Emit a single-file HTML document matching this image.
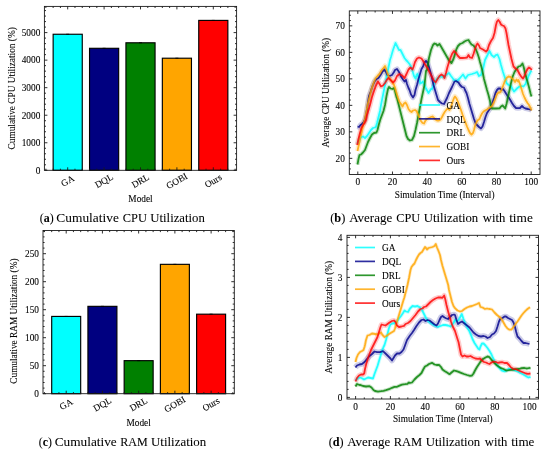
<!DOCTYPE html>
<html><head><meta charset="utf-8"><title>Figure</title>
<style>html,body{margin:0;padding:0;background:#fff}svg{display:block;filter:blur(0.35px)}</style></head>
<body>
<svg width="550" height="454" viewBox="0 0 550 454" font-family='"Liberation Serif", serif' fill="#000" stroke="#000" stroke-width="0">
<rect width="550" height="454" fill="#fff"/>
<rect x="53.14" y="34.25" width="29.12" height="136.05" fill="#00ffff" stroke="#000" stroke-width="1.15"/>
<path d="M66.20 34.25h3" stroke="#000" stroke-width="0.8"/>
<rect x="89.54" y="48.30" width="29.12" height="122.00" fill="#000080" stroke="#000" stroke-width="1.15"/>
<path d="M102.60 48.30h3" stroke="#000" stroke-width="0.8"/>
<rect x="125.94" y="42.79" width="29.12" height="127.51" fill="#008000" stroke="#000" stroke-width="1.15"/>
<path d="M139.00 42.79h3" stroke="#000" stroke-width="0.8"/>
<rect x="162.34" y="58.21" width="29.12" height="112.09" fill="#ffa500" stroke="#000" stroke-width="1.15"/>
<path d="M175.40 58.21h3" stroke="#000" stroke-width="0.8"/>
<rect x="198.74" y="20.40" width="29.12" height="149.90" fill="#ff0000" stroke="#000" stroke-width="1.15"/>
<path d="M211.80 20.40h3" stroke="#000" stroke-width="0.8"/>
<rect x="44.4" y="6.4" width="192.20" height="163.90" fill="none" stroke="#1a1a1a" stroke-width="0.9"/>
<path d="M67.70 170.30v-3.0M67.70 6.40v3.0M104.10 170.30v-3.0M104.10 6.40v3.0M140.50 170.30v-3.0M140.50 6.40v3.0M176.90 170.30v-3.0M176.90 6.40v3.0M213.30 170.30v-3.0M213.30 6.40v3.0" stroke="#1a1a1a" stroke-width="0.9" fill="none"/>
<path d="M45.86 170.30v-1.6M45.86 6.40v1.6M53.14 170.30v-1.6M53.14 6.40v1.6M60.42 170.30v-1.6M60.42 6.40v1.6M74.98 170.30v-1.6M74.98 6.40v1.6M82.26 170.30v-1.6M82.26 6.40v1.6M89.54 170.30v-1.6M89.54 6.40v1.6M96.82 170.30v-1.6M96.82 6.40v1.6M111.38 170.30v-1.6M111.38 6.40v1.6M118.66 170.30v-1.6M118.66 6.40v1.6M125.94 170.30v-1.6M125.94 6.40v1.6M133.22 170.30v-1.6M133.22 6.40v1.6M147.78 170.30v-1.6M147.78 6.40v1.6M155.06 170.30v-1.6M155.06 6.40v1.6M162.34 170.30v-1.6M162.34 6.40v1.6M169.62 170.30v-1.6M169.62 6.40v1.6M184.18 170.30v-1.6M184.18 6.40v1.6M191.46 170.30v-1.6M191.46 6.40v1.6M198.74 170.30v-1.6M198.74 6.40v1.6M206.02 170.30v-1.6M206.02 6.40v1.6M220.58 170.30v-1.6M220.58 6.40v1.6M227.86 170.30v-1.6M227.86 6.40v1.6M235.14 170.30v-1.6M235.14 6.40v1.6" stroke="#1a1a1a" stroke-width="0.9" fill="none"/>
<path d="M44.40 170.30h3.0M236.60 170.30h-3.0M44.40 142.76h3.0M236.60 142.76h-3.0M44.40 115.22h3.0M236.60 115.22h-3.0M44.40 87.68h3.0M236.60 87.68h-3.0M44.40 60.14h3.0M236.60 60.14h-3.0M44.40 32.60h3.0M236.60 32.60h-3.0" stroke="#1a1a1a" stroke-width="0.9" fill="none"/>
<path d="M44.40 164.79h1.6M236.60 164.79h-1.6M44.40 159.28h1.6M236.60 159.28h-1.6M44.40 153.78h1.6M236.60 153.78h-1.6M44.40 148.27h1.6M236.60 148.27h-1.6M44.40 137.25h1.6M236.60 137.25h-1.6M44.40 131.74h1.6M236.60 131.74h-1.6M44.40 126.24h1.6M236.60 126.24h-1.6M44.40 120.73h1.6M236.60 120.73h-1.6M44.40 109.71h1.6M236.60 109.71h-1.6M44.40 104.20h1.6M236.60 104.20h-1.6M44.40 98.70h1.6M236.60 98.70h-1.6M44.40 93.19h1.6M236.60 93.19h-1.6M44.40 82.17h1.6M236.60 82.17h-1.6M44.40 76.66h1.6M236.60 76.66h-1.6M44.40 71.16h1.6M236.60 71.16h-1.6M44.40 65.65h1.6M236.60 65.65h-1.6M44.40 54.63h1.6M236.60 54.63h-1.6M44.40 49.12h1.6M236.60 49.12h-1.6M44.40 43.62h1.6M236.60 43.62h-1.6M44.40 38.11h1.6M236.60 38.11h-1.6M44.40 27.09h1.6M236.60 27.09h-1.6M44.40 21.58h1.6M236.60 21.58h-1.6M44.40 16.08h1.6M236.60 16.08h-1.6M44.40 10.57h1.6M236.60 10.57h-1.6" stroke="#1a1a1a" stroke-width="0.9" fill="none"/>
<text x="40.30" y="173.60" font-size="9.3" text-anchor="end" stroke-width="0.08">0</text>
<text x="40.30" y="146.06" font-size="9.3" text-anchor="end" stroke-width="0.08">1000</text>
<text x="40.30" y="118.52" font-size="9.3" text-anchor="end" stroke-width="0.08">2000</text>
<text x="40.30" y="90.98" font-size="9.3" text-anchor="end" stroke-width="0.08">3000</text>
<text x="40.30" y="63.44" font-size="9.3" text-anchor="end" stroke-width="0.08">4000</text>
<text x="40.30" y="35.90" font-size="9.3" text-anchor="end" stroke-width="0.08">5000</text>
<text x="68.10" y="181.70" font-size="9.3" text-anchor="middle" stroke-width="0.08" transform="rotate(-30 68.10 181.70)" dominant-baseline="middle">GA</text>
<text x="104.50" y="181.70" font-size="9.3" text-anchor="middle" stroke-width="0.08" transform="rotate(-30 104.50 181.70)" dominant-baseline="middle">DQL</text>
<text x="140.90" y="181.70" font-size="9.3" text-anchor="middle" stroke-width="0.08" transform="rotate(-30 140.90 181.70)" dominant-baseline="middle">DRL</text>
<text x="177.30" y="181.70" font-size="9.3" text-anchor="middle" stroke-width="0.08" transform="rotate(-30 177.30 181.70)" dominant-baseline="middle">GOBI</text>
<text x="213.70" y="181.70" font-size="9.3" text-anchor="middle" stroke-width="0.08" transform="rotate(-30 213.70 181.70)" dominant-baseline="middle">Ours</text>
<text x="140.50" y="202.30" font-size="9.3" text-anchor="middle" stroke-width="0.08">Model</text>
<text x="15.50" y="88.35" font-size="9.3" text-anchor="middle" stroke-width="0.08" transform="rotate(-90 15.50 88.35)">Cumulative CPU Utilization (%)</text>
<rect x="51.70" y="316.42" width="28.98" height="77.28" fill="#00ffff" stroke="#000" stroke-width="1.15"/>
<path d="M64.69 316.42h3" stroke="#000" stroke-width="0.8"/>
<rect x="87.93" y="306.34" width="28.98" height="87.36" fill="#000080" stroke="#000" stroke-width="1.15"/>
<path d="M100.92 306.34h3" stroke="#000" stroke-width="0.8"/>
<rect x="124.16" y="360.66" width="28.98" height="33.04" fill="#008000" stroke="#000" stroke-width="1.15"/>
<path d="M137.15 360.66h3" stroke="#000" stroke-width="0.8"/>
<rect x="160.39" y="264.34" width="28.98" height="129.36" fill="#ffa500" stroke="#000" stroke-width="1.15"/>
<path d="M173.38 264.34h3" stroke="#000" stroke-width="0.8"/>
<rect x="196.62" y="314.18" width="28.98" height="79.52" fill="#ff0000" stroke="#000" stroke-width="1.15"/>
<path d="M209.61 314.18h3" stroke="#000" stroke-width="0.8"/>
<rect x="43" y="230.5" width="191.30" height="163.20" fill="none" stroke="#1a1a1a" stroke-width="0.9"/>
<path d="M66.19 393.70v-3.0M66.19 230.50v3.0M102.42 393.70v-3.0M102.42 230.50v3.0M138.65 393.70v-3.0M138.65 230.50v3.0M174.88 393.70v-3.0M174.88 230.50v3.0M211.11 393.70v-3.0M211.11 230.50v3.0" stroke="#1a1a1a" stroke-width="0.9" fill="none"/>
<path d="M44.45 393.70v-1.6M44.45 230.50v1.6M51.70 393.70v-1.6M51.70 230.50v1.6M58.94 393.70v-1.6M58.94 230.50v1.6M73.43 393.70v-1.6M73.43 230.50v1.6M80.68 393.70v-1.6M80.68 230.50v1.6M87.93 393.70v-1.6M87.93 230.50v1.6M95.17 393.70v-1.6M95.17 230.50v1.6M109.67 393.70v-1.6M109.67 230.50v1.6M116.91 393.70v-1.6M116.91 230.50v1.6M124.16 393.70v-1.6M124.16 230.50v1.6M131.40 393.70v-1.6M131.40 230.50v1.6M145.90 393.70v-1.6M145.90 230.50v1.6M153.14 393.70v-1.6M153.14 230.50v1.6M160.39 393.70v-1.6M160.39 230.50v1.6M167.63 393.70v-1.6M167.63 230.50v1.6M182.13 393.70v-1.6M182.13 230.50v1.6M189.37 393.70v-1.6M189.37 230.50v1.6M196.62 393.70v-1.6M196.62 230.50v1.6M203.87 393.70v-1.6M203.87 230.50v1.6M218.36 393.70v-1.6M218.36 230.50v1.6M225.60 393.70v-1.6M225.60 230.50v1.6M232.85 393.70v-1.6M232.85 230.50v1.6" stroke="#1a1a1a" stroke-width="0.9" fill="none"/>
<path d="M43.00 393.70h3.0M234.30 393.70h-3.0M43.00 365.70h3.0M234.30 365.70h-3.0M43.00 337.70h3.0M234.30 337.70h-3.0M43.00 309.70h3.0M234.30 309.70h-3.0M43.00 281.70h3.0M234.30 281.70h-3.0M43.00 253.70h3.0M234.30 253.70h-3.0" stroke="#1a1a1a" stroke-width="0.9" fill="none"/>
<path d="M43.00 388.10h1.6M234.30 388.10h-1.6M43.00 382.50h1.6M234.30 382.50h-1.6M43.00 376.90h1.6M234.30 376.90h-1.6M43.00 371.30h1.6M234.30 371.30h-1.6M43.00 360.10h1.6M234.30 360.10h-1.6M43.00 354.50h1.6M234.30 354.50h-1.6M43.00 348.90h1.6M234.30 348.90h-1.6M43.00 343.30h1.6M234.30 343.30h-1.6M43.00 332.10h1.6M234.30 332.10h-1.6M43.00 326.50h1.6M234.30 326.50h-1.6M43.00 320.90h1.6M234.30 320.90h-1.6M43.00 315.30h1.6M234.30 315.30h-1.6M43.00 304.10h1.6M234.30 304.10h-1.6M43.00 298.50h1.6M234.30 298.50h-1.6M43.00 292.90h1.6M234.30 292.90h-1.6M43.00 287.30h1.6M234.30 287.30h-1.6M43.00 276.10h1.6M234.30 276.10h-1.6M43.00 270.50h1.6M234.30 270.50h-1.6M43.00 264.90h1.6M234.30 264.90h-1.6M43.00 259.30h1.6M234.30 259.30h-1.6M43.00 248.10h1.6M234.30 248.10h-1.6M43.00 242.50h1.6M234.30 242.50h-1.6M43.00 236.90h1.6M234.30 236.90h-1.6M43.00 231.30h1.6M234.30 231.30h-1.6" stroke="#1a1a1a" stroke-width="0.9" fill="none"/>
<text x="39.00" y="397.00" font-size="9.3" text-anchor="end" stroke-width="0.08">0</text>
<text x="39.00" y="369.00" font-size="9.3" text-anchor="end" stroke-width="0.08">50</text>
<text x="39.00" y="341.00" font-size="9.3" text-anchor="end" stroke-width="0.08">100</text>
<text x="39.00" y="313.00" font-size="9.3" text-anchor="end" stroke-width="0.08">150</text>
<text x="39.00" y="285.00" font-size="9.3" text-anchor="end" stroke-width="0.08">200</text>
<text x="39.00" y="257.00" font-size="9.3" text-anchor="end" stroke-width="0.08">250</text>
<text x="66.59" y="405.10" font-size="9.3" text-anchor="middle" stroke-width="0.08" transform="rotate(-30 66.59 405.10)" dominant-baseline="middle">GA</text>
<text x="102.82" y="405.10" font-size="9.3" text-anchor="middle" stroke-width="0.08" transform="rotate(-30 102.82 405.10)" dominant-baseline="middle">DQL</text>
<text x="139.05" y="405.10" font-size="9.3" text-anchor="middle" stroke-width="0.08" transform="rotate(-30 139.05 405.10)" dominant-baseline="middle">DRL</text>
<text x="175.28" y="405.10" font-size="9.3" text-anchor="middle" stroke-width="0.08" transform="rotate(-30 175.28 405.10)" dominant-baseline="middle">GOBI</text>
<text x="211.51" y="405.10" font-size="9.3" text-anchor="middle" stroke-width="0.08" transform="rotate(-30 211.51 405.10)" dominant-baseline="middle">Ours</text>
<text x="138.65" y="425.50" font-size="9.3" text-anchor="middle" stroke-width="0.08">Model</text>
<text x="17.00" y="321.10" font-size="9.3" text-anchor="middle" stroke-width="0.08" transform="rotate(-90 17.00 321.10)">Cumulative RAM Utilization (%)</text>
<clipPath id="c34910"><rect x="349.3" y="10.9" width="190.7" height="163.6"/></clipPath>
<g clip-path="url(#c34910)" fill="none" stroke-linejoin="round" stroke-linecap="butt">
<polyline points="357.6,144.0 359.0,140.5 360.3,138.0 361.5,137.0 363.0,136.5 365.0,138.0 367.0,136.0 369.0,133.0 371.0,130.0 373.0,128.0 375.0,127.5 376.0,126.5 377.0,123.0 378.5,117.0 380.0,111.0 381.0,105.0 383.0,95.0 385.0,85.0 387.0,75.0 389.0,65.0 390.0,60.0 391.0,57.0 393.0,50.0 395.5,43.0 397.5,47.0 399.0,50.0 400.5,50.0 402.5,54.0 404.5,58.0 406.0,60.0 407.5,61.5 409.5,64.0 411.0,66.5 412.5,71.0 414.0,76.0 415.5,78.5 416.5,75.0 417.5,74.0 419.0,79.0 420.5,83.5 422.0,82.5 423.0,81.5 424.5,85.0 426.0,88.5 428.5,93.0 431.0,89.0 432.0,89.0 434.0,84.0 436.0,80.0 438.5,77.5 441.0,76.5 444.0,77.0 446.0,75.0 449.0,73.0 451.0,76.0 454.0,80.0 457.0,81.0 460.0,78.0 463.0,74.5 465.5,78.5 468.0,75.0 472.0,74.0 475.0,73.0 477.0,72.0 479.0,76.0 481.0,75.0 483.0,69.0 485.0,60.0 487.0,56.0 489.5,51.0 491.5,55.0 494.0,57.0 496.0,55.0 497.5,54.5 499.5,59.0 501.0,65.0 503.0,72.0 505.0,78.0 506.5,83.0 508.5,85.0 510.5,85.5 512.5,89.0 514.0,91.5 515.5,90.0 517.5,88.0 519.5,86.5 521.5,86.0 523.5,86.5 525.5,84.0 527.0,80.0 529.0,75.0 530.5,72.0 531.5,70.5" stroke="#00ffff" stroke-width="4.6" opacity="0.2"/>
<polyline points="357.5,126.5 359.0,127.0 360.5,125.0 362.0,124.0 363.5,122.5 365.0,119.5 366.0,115.0 367.2,108.0 368.0,102.0 369.0,96.0 370.5,92.0 372.5,86.0 374.5,81.5 376.5,79.0 378.5,78.0 380.5,75.0 382.5,71.5 384.5,69.5 386.0,72.0 387.5,75.0 389.5,76.0 392.0,75.0 394.0,72.0 395.0,70.0 397.0,69.0 399.0,72.0 401.0,76.5 403.0,79.5 404.5,81.5 406.0,80.0 407.0,84.0 408.5,88.0 409.5,90.0 411.0,94.5 413.0,97.5 414.5,95.0 415.5,90.0 417.0,85.0 418.5,79.0 420.0,74.0 421.5,69.0 423.0,66.5 424.5,62.5 426.0,61.0 427.5,62.5 429.0,67.0 430.5,72.5 432.0,78.0 433.5,85.0 435.0,90.0 436.5,95.0 438.0,100.0 440.0,102.0 442.0,103.5 444.0,104.0 445.0,102.0 447.0,98.0 449.0,93.0 450.5,90.0 452.0,87.0 454.5,81.5 456.0,81.0 458.5,82.5 460.0,85.0 462.0,87.0 464.0,87.5 465.0,90.0 466.5,93.0 468.0,98.0 469.5,104.0 471.0,109.0 472.5,114.0 474.0,119.0 475.5,123.0 477.0,125.0 479.0,127.0 481.0,128.5 482.5,126.5 484.0,122.0 485.5,117.0 487.0,113.0 489.0,110.0 490.0,108.5 492.0,104.0 494.0,98.0 495.5,93.0 497.0,90.0 498.5,88.5 500.0,88.5 501.5,90.0 503.0,89.0 504.5,91.0 506.0,93.5 508.0,96.5 510.0,99.5 512.0,103.0 514.0,106.0 516.0,108.0 518.0,108.2 520.0,108.0 522.0,106.0 523.5,107.5 525.5,108.5 528.0,109.0 530.0,109.5 531.5,110.0" stroke="#00008b" stroke-width="5.2" opacity="0.2"/>
<polyline points="357.5,164.5 358.5,159.0 359.5,155.0 361.0,154.5 363.0,152.5 365.0,150.0 366.5,146.0 368.0,142.0 370.0,138.0 372.0,134.5 374.0,133.0 376.5,132.5 377.5,130.0 379.0,124.0 380.5,119.0 382.0,115.0 383.5,111.0 385.0,105.0 386.5,96.0 388.0,89.0 389.0,87.0 390.5,88.5 392.5,89.0 394.0,88.0 395.0,91.0 396.5,97.0 397.0,98.0 399.0,106.0 401.0,114.0 403.0,122.0 405.0,130.0 406.5,136.0 408.0,139.0 410.0,140.5 412.0,140.0 414.0,136.0 415.5,130.0 417.0,123.0 418.5,115.0 420.0,107.0 421.5,99.0 423.0,92.0 424.5,85.0 426.0,71.0 427.0,70.0 429.0,58.0 431.0,50.0 433.0,45.0 434.5,43.5 436.0,44.0 437.5,45.5 439.5,44.0 441.0,46.5 443.0,50.0 445.0,53.5 447.0,57.0 449.0,60.5 451.5,63.0 453.5,59.0 455.0,54.0 456.5,49.0 458.0,46.0 460.0,44.0 462.5,43.0 464.5,41.5 466.5,40.5 468.5,40.0 470.0,42.5 471.5,44.5 473.5,45.5 475.0,47.5 477.0,52.0 479.0,58.0 480.0,62.0 482.0,69.0 484.0,79.0 487.0,90.0 488.5,95.0 490.0,101.0 491.0,107.0 492.0,108.5 496.0,108.5 499.5,108.3 501.0,106.5 502.5,105.5 504.0,107.0 505.2,108.5 506.5,104.0 508.0,97.0 509.5,90.0 511.0,83.0 512.5,77.0 514.5,72.0 516.5,69.0 518.5,66.5 520.5,66.0 522.5,63.5 523.7,67.0 525.3,74.0 527.0,80.0 528.7,86.0 529.7,90.0 530.7,94.0 531.5,96.5" stroke="#008000" stroke-width="4.2" opacity="0.2"/>
<polyline points="357.5,151.0 359.0,144.0 360.5,137.0 362.0,130.0 363.5,124.0 365.0,119.0 366.5,111.0 367.5,105.0 369.5,97.0 371.5,89.0 373.5,83.0 375.5,78.5 377.5,76.0 379.5,74.0 381.5,70.5 383.5,68.0 385.0,66.0 386.5,70.0 388.0,75.0 390.0,79.0 392.0,81.5 394.0,85.0 395.0,88.0 396.5,93.0 398.0,98.0 399.5,102.0 401.0,104.0 402.5,106.5 404.0,103.5 405.5,102.5 407.0,105.0 408.5,109.0 410.0,111.0 411.5,112.0 413.0,110.5 415.0,110.0 416.5,111.0 418.0,114.0 419.5,118.0 421.0,121.0 422.5,123.0 424.0,123.5 425.5,120.5 427.0,119.0 429.0,118.0 431.0,117.0 432.5,116.5 434.0,118.0 435.5,119.5 437.0,120.5 439.0,120.5 440.5,119.5 442.0,117.0 443.5,114.0 445.0,111.5 447.5,108.5 449.5,110.0 451.0,107.0 452.5,102.0 454.0,98.0 455.0,96.5 456.5,98.5 458.0,102.0 459.5,106.0 461.0,110.0 462.5,114.5 464.0,118.5 465.5,122.5 467.0,126.5 468.5,130.0 470.0,133.0 471.5,134.5 473.0,133.0 474.0,130.0 475.0,126.0 476.5,122.0 478.0,120.0 479.5,119.0 480.5,116.5 482.0,113.5 483.5,111.5 485.0,110.5 487.0,109.5 489.0,108.0 490.0,107.5 492.0,106.0 494.0,102.0 495.5,98.0 497.0,94.0 498.5,92.5 500.0,92.5 501.5,90.0 503.0,86.0 504.5,82.0 506.5,78.0 508.5,76.5 510.5,76.8 512.0,78.5 513.5,79.5 515.0,82.0 516.5,79.5 518.0,81.5 518.5,80.0 520.0,84.0 521.5,89.0 523.0,94.0 524.5,97.5 526.0,100.5 527.5,103.0 529.0,105.0 530.5,108.0 531.5,110.5" stroke="#ffa500" stroke-width="5.0" opacity="0.2"/>
<polyline points="357.2,145.0 358.5,139.0 360.0,133.0 361.5,128.0 363.0,125.0 364.5,123.0 366.0,120.0 367.0,115.0 368.5,110.0 370.0,105.0 372.0,97.0 374.0,91.0 376.0,85.5 378.0,81.5 379.5,84.0 381.0,86.5 383.0,85.5 385.0,83.0 387.0,79.5 388.5,78.0 390.5,80.0 393.0,82.5 395.0,80.5 397.0,76.0 399.5,74.0 402.0,75.5 404.5,78.0 406.5,74.0 408.5,69.5 410.5,67.5 412.5,69.5 413.5,67.0 415.0,62.0 417.0,58.5 419.0,57.5 421.5,58.5 423.5,61.5 425.5,65.0 427.5,68.0 429.5,72.0 431.5,76.0 433.5,80.0 435.5,82.5 437.5,79.0 439.5,76.0 441.5,74.5 443.5,76.0 444.5,78.0 446.0,73.0 447.5,67.0 449.0,62.0 450.0,59.0 452.0,54.0 454.0,51.0 456.0,53.0 458.0,56.0 460.0,58.0 462.5,58.0 465.0,57.8 467.0,57.5 468.5,55.0 470.0,57.5 472.0,58.0 473.5,54.0 475.0,49.0 476.5,45.0 477.5,43.5 479.0,45.5 480.0,48.0 483.0,49.5 486.0,51.5 487.5,50.0 489.0,45.0 491.0,41.0 493.0,38.0 494.5,33.0 496.0,25.0 497.0,21.5 498.3,20.0 499.5,21.5 501.0,24.5 502.5,25.5 504.0,26.0 505.5,28.5 506.5,33.0 508.0,42.0 508.5,45.0 510.0,52.0 511.5,59.0 513.5,66.5 515.5,68.5 517.5,70.0 519.5,74.0 521.5,77.0 523.0,78.5 524.5,76.0 526.0,72.0 527.5,69.0 529.0,67.5 530.5,68.5 531.8,70.0" stroke="#ff0000" stroke-width="5.0" opacity="0.2"/>
<polyline points="357.6,144.0 359.0,140.5 360.3,138.0 361.5,137.0 363.0,136.5 365.0,138.0 367.0,136.0 369.0,133.0 371.0,130.0 373.0,128.0 375.0,127.5 376.0,126.5 377.0,123.0 378.5,117.0 380.0,111.0 381.0,105.0 383.0,95.0 385.0,85.0 387.0,75.0 389.0,65.0 390.0,60.0 391.0,57.0 393.0,50.0 395.5,43.0 397.5,47.0 399.0,50.0 400.5,50.0 402.5,54.0 404.5,58.0 406.0,60.0 407.5,61.5 409.5,64.0 411.0,66.5 412.5,71.0 414.0,76.0 415.5,78.5 416.5,75.0 417.5,74.0 419.0,79.0 420.5,83.5 422.0,82.5 423.0,81.5 424.5,85.0 426.0,88.5 428.5,93.0 431.0,89.0 432.0,89.0 434.0,84.0 436.0,80.0 438.5,77.5 441.0,76.5 444.0,77.0 446.0,75.0 449.0,73.0 451.0,76.0 454.0,80.0 457.0,81.0 460.0,78.0 463.0,74.5 465.5,78.5 468.0,75.0 472.0,74.0 475.0,73.0 477.0,72.0 479.0,76.0 481.0,75.0 483.0,69.0 485.0,60.0 487.0,56.0 489.5,51.0 491.5,55.0 494.0,57.0 496.0,55.0 497.5,54.5 499.5,59.0 501.0,65.0 503.0,72.0 505.0,78.0 506.5,83.0 508.5,85.0 510.5,85.5 512.5,89.0 514.0,91.5 515.5,90.0 517.5,88.0 519.5,86.5 521.5,86.0 523.5,86.5 525.5,84.0 527.0,80.0 529.0,75.0 530.5,72.0 531.5,70.5" stroke="#00ffff" stroke-width="1.8" stroke-opacity="0.82"/>
<polyline points="357.5,126.5 359.0,127.0 360.5,125.0 362.0,124.0 363.5,122.5 365.0,119.5 366.0,115.0 367.2,108.0 368.0,102.0 369.0,96.0 370.5,92.0 372.5,86.0 374.5,81.5 376.5,79.0 378.5,78.0 380.5,75.0 382.5,71.5 384.5,69.5 386.0,72.0 387.5,75.0 389.5,76.0 392.0,75.0 394.0,72.0 395.0,70.0 397.0,69.0 399.0,72.0 401.0,76.5 403.0,79.5 404.5,81.5 406.0,80.0 407.0,84.0 408.5,88.0 409.5,90.0 411.0,94.5 413.0,97.5 414.5,95.0 415.5,90.0 417.0,85.0 418.5,79.0 420.0,74.0 421.5,69.0 423.0,66.5 424.5,62.5 426.0,61.0 427.5,62.5 429.0,67.0 430.5,72.5 432.0,78.0 433.5,85.0 435.0,90.0 436.5,95.0 438.0,100.0 440.0,102.0 442.0,103.5 444.0,104.0 445.0,102.0 447.0,98.0 449.0,93.0 450.5,90.0 452.0,87.0 454.5,81.5 456.0,81.0 458.5,82.5 460.0,85.0 462.0,87.0 464.0,87.5 465.0,90.0 466.5,93.0 468.0,98.0 469.5,104.0 471.0,109.0 472.5,114.0 474.0,119.0 475.5,123.0 477.0,125.0 479.0,127.0 481.0,128.5 482.5,126.5 484.0,122.0 485.5,117.0 487.0,113.0 489.0,110.0 490.0,108.5 492.0,104.0 494.0,98.0 495.5,93.0 497.0,90.0 498.5,88.5 500.0,88.5 501.5,90.0 503.0,89.0 504.5,91.0 506.0,93.5 508.0,96.5 510.0,99.5 512.0,103.0 514.0,106.0 516.0,108.0 518.0,108.2 520.0,108.0 522.0,106.0 523.5,107.5 525.5,108.5 528.0,109.0 530.0,109.5 531.5,110.0" stroke="#00008b" stroke-width="1.8" stroke-opacity="0.82"/>
<polyline points="357.5,164.5 358.5,159.0 359.5,155.0 361.0,154.5 363.0,152.5 365.0,150.0 366.5,146.0 368.0,142.0 370.0,138.0 372.0,134.5 374.0,133.0 376.5,132.5 377.5,130.0 379.0,124.0 380.5,119.0 382.0,115.0 383.5,111.0 385.0,105.0 386.5,96.0 388.0,89.0 389.0,87.0 390.5,88.5 392.5,89.0 394.0,88.0 395.0,91.0 396.5,97.0 397.0,98.0 399.0,106.0 401.0,114.0 403.0,122.0 405.0,130.0 406.5,136.0 408.0,139.0 410.0,140.5 412.0,140.0 414.0,136.0 415.5,130.0 417.0,123.0 418.5,115.0 420.0,107.0 421.5,99.0 423.0,92.0 424.5,85.0 426.0,71.0 427.0,70.0 429.0,58.0 431.0,50.0 433.0,45.0 434.5,43.5 436.0,44.0 437.5,45.5 439.5,44.0 441.0,46.5 443.0,50.0 445.0,53.5 447.0,57.0 449.0,60.5 451.5,63.0 453.5,59.0 455.0,54.0 456.5,49.0 458.0,46.0 460.0,44.0 462.5,43.0 464.5,41.5 466.5,40.5 468.5,40.0 470.0,42.5 471.5,44.5 473.5,45.5 475.0,47.5 477.0,52.0 479.0,58.0 480.0,62.0 482.0,69.0 484.0,79.0 487.0,90.0 488.5,95.0 490.0,101.0 491.0,107.0 492.0,108.5 496.0,108.5 499.5,108.3 501.0,106.5 502.5,105.5 504.0,107.0 505.2,108.5 506.5,104.0 508.0,97.0 509.5,90.0 511.0,83.0 512.5,77.0 514.5,72.0 516.5,69.0 518.5,66.5 520.5,66.0 522.5,63.5 523.7,67.0 525.3,74.0 527.0,80.0 528.7,86.0 529.7,90.0 530.7,94.0 531.5,96.5" stroke="#008000" stroke-width="1.8" stroke-opacity="0.82"/>
<polyline points="357.5,151.0 359.0,144.0 360.5,137.0 362.0,130.0 363.5,124.0 365.0,119.0 366.5,111.0 367.5,105.0 369.5,97.0 371.5,89.0 373.5,83.0 375.5,78.5 377.5,76.0 379.5,74.0 381.5,70.5 383.5,68.0 385.0,66.0 386.5,70.0 388.0,75.0 390.0,79.0 392.0,81.5 394.0,85.0 395.0,88.0 396.5,93.0 398.0,98.0 399.5,102.0 401.0,104.0 402.5,106.5 404.0,103.5 405.5,102.5 407.0,105.0 408.5,109.0 410.0,111.0 411.5,112.0 413.0,110.5 415.0,110.0 416.5,111.0 418.0,114.0 419.5,118.0 421.0,121.0 422.5,123.0 424.0,123.5 425.5,120.5 427.0,119.0 429.0,118.0 431.0,117.0 432.5,116.5 434.0,118.0 435.5,119.5 437.0,120.5 439.0,120.5 440.5,119.5 442.0,117.0 443.5,114.0 445.0,111.5 447.5,108.5 449.5,110.0 451.0,107.0 452.5,102.0 454.0,98.0 455.0,96.5 456.5,98.5 458.0,102.0 459.5,106.0 461.0,110.0 462.5,114.5 464.0,118.5 465.5,122.5 467.0,126.5 468.5,130.0 470.0,133.0 471.5,134.5 473.0,133.0 474.0,130.0 475.0,126.0 476.5,122.0 478.0,120.0 479.5,119.0 480.5,116.5 482.0,113.5 483.5,111.5 485.0,110.5 487.0,109.5 489.0,108.0 490.0,107.5 492.0,106.0 494.0,102.0 495.5,98.0 497.0,94.0 498.5,92.5 500.0,92.5 501.5,90.0 503.0,86.0 504.5,82.0 506.5,78.0 508.5,76.5 510.5,76.8 512.0,78.5 513.5,79.5 515.0,82.0 516.5,79.5 518.0,81.5 518.5,80.0 520.0,84.0 521.5,89.0 523.0,94.0 524.5,97.5 526.0,100.5 527.5,103.0 529.0,105.0 530.5,108.0 531.5,110.5" stroke="#ffa500" stroke-width="1.8" stroke-opacity="0.82"/>
<polyline points="357.2,145.0 358.5,139.0 360.0,133.0 361.5,128.0 363.0,125.0 364.5,123.0 366.0,120.0 367.0,115.0 368.5,110.0 370.0,105.0 372.0,97.0 374.0,91.0 376.0,85.5 378.0,81.5 379.5,84.0 381.0,86.5 383.0,85.5 385.0,83.0 387.0,79.5 388.5,78.0 390.5,80.0 393.0,82.5 395.0,80.5 397.0,76.0 399.5,74.0 402.0,75.5 404.5,78.0 406.5,74.0 408.5,69.5 410.5,67.5 412.5,69.5 413.5,67.0 415.0,62.0 417.0,58.5 419.0,57.5 421.5,58.5 423.5,61.5 425.5,65.0 427.5,68.0 429.5,72.0 431.5,76.0 433.5,80.0 435.5,82.5 437.5,79.0 439.5,76.0 441.5,74.5 443.5,76.0 444.5,78.0 446.0,73.0 447.5,67.0 449.0,62.0 450.0,59.0 452.0,54.0 454.0,51.0 456.0,53.0 458.0,56.0 460.0,58.0 462.5,58.0 465.0,57.8 467.0,57.5 468.5,55.0 470.0,57.5 472.0,58.0 473.5,54.0 475.0,49.0 476.5,45.0 477.5,43.5 479.0,45.5 480.0,48.0 483.0,49.5 486.0,51.5 487.5,50.0 489.0,45.0 491.0,41.0 493.0,38.0 494.5,33.0 496.0,25.0 497.0,21.5 498.3,20.0 499.5,21.5 501.0,24.5 502.5,25.5 504.0,26.0 505.5,28.5 506.5,33.0 508.0,42.0 508.5,45.0 510.0,52.0 511.5,59.0 513.5,66.5 515.5,68.5 517.5,70.0 519.5,74.0 521.5,77.0 523.0,78.5 524.5,76.0 526.0,72.0 527.5,69.0 529.0,67.5 530.5,68.5 531.8,70.0" stroke="#ff0000" stroke-width="1.8" stroke-opacity="0.82"/>
</g>
<rect x="349.3" y="10.9" width="190.70" height="163.60" fill="none" stroke="#1a1a1a" stroke-width="0.9"/>
<path d="M357.80 174.50v-3.0M357.80 10.90v3.0M392.48 174.50v-3.0M392.48 10.90v3.0M427.16 174.50v-3.0M427.16 10.90v3.0M461.84 174.50v-3.0M461.84 10.90v3.0M496.52 174.50v-3.0M496.52 10.90v3.0M531.20 174.50v-3.0M531.20 10.90v3.0" stroke="#1a1a1a" stroke-width="0.9" fill="none"/>
<path d="M366.47 174.50v-1.6M366.47 10.90v1.6M375.14 174.50v-1.6M375.14 10.90v1.6M383.81 174.50v-1.6M383.81 10.90v1.6M401.15 174.50v-1.6M401.15 10.90v1.6M409.82 174.50v-1.6M409.82 10.90v1.6M418.49 174.50v-1.6M418.49 10.90v1.6M435.83 174.50v-1.6M435.83 10.90v1.6M444.50 174.50v-1.6M444.50 10.90v1.6M453.17 174.50v-1.6M453.17 10.90v1.6M470.51 174.50v-1.6M470.51 10.90v1.6M479.18 174.50v-1.6M479.18 10.90v1.6M487.85 174.50v-1.6M487.85 10.90v1.6M505.19 174.50v-1.6M505.19 10.90v1.6M513.86 174.50v-1.6M513.86 10.90v1.6M522.53 174.50v-1.6M522.53 10.90v1.6" stroke="#1a1a1a" stroke-width="0.9" fill="none"/>
<path d="M349.30 158.35h3.0M540.00 158.35h-3.0M349.30 131.85h3.0M540.00 131.85h-3.0M349.30 105.35h3.0M540.00 105.35h-3.0M349.30 78.85h3.0M540.00 78.85h-3.0M349.30 52.35h3.0M540.00 52.35h-3.0M349.30 25.85h3.0M540.00 25.85h-3.0" stroke="#1a1a1a" stroke-width="0.9" fill="none"/>
<path d="M349.30 168.95h1.6M540.00 168.95h-1.6M349.30 163.65h1.6M540.00 163.65h-1.6M349.30 153.05h1.6M540.00 153.05h-1.6M349.30 147.75h1.6M540.00 147.75h-1.6M349.30 142.45h1.6M540.00 142.45h-1.6M349.30 137.15h1.6M540.00 137.15h-1.6M349.30 126.55h1.6M540.00 126.55h-1.6M349.30 121.25h1.6M540.00 121.25h-1.6M349.30 115.95h1.6M540.00 115.95h-1.6M349.30 110.65h1.6M540.00 110.65h-1.6M349.30 100.05h1.6M540.00 100.05h-1.6M349.30 94.75h1.6M540.00 94.75h-1.6M349.30 89.45h1.6M540.00 89.45h-1.6M349.30 84.15h1.6M540.00 84.15h-1.6M349.30 73.55h1.6M540.00 73.55h-1.6M349.30 68.25h1.6M540.00 68.25h-1.6M349.30 62.95h1.6M540.00 62.95h-1.6M349.30 57.65h1.6M540.00 57.65h-1.6M349.30 47.05h1.6M540.00 47.05h-1.6M349.30 41.75h1.6M540.00 41.75h-1.6M349.30 36.45h1.6M540.00 36.45h-1.6M349.30 31.15h1.6M540.00 31.15h-1.6M349.30 20.55h1.6M540.00 20.55h-1.6M349.30 15.25h1.6M540.00 15.25h-1.6" stroke="#1a1a1a" stroke-width="0.9" fill="none"/>
<text x="344.80" y="161.75" font-size="9.3" text-anchor="end" stroke-width="0.08">20</text>
<text x="344.80" y="135.25" font-size="9.3" text-anchor="end" stroke-width="0.08">30</text>
<text x="344.80" y="108.75" font-size="9.3" text-anchor="end" stroke-width="0.08">40</text>
<text x="344.80" y="82.25" font-size="9.3" text-anchor="end" stroke-width="0.08">50</text>
<text x="344.80" y="55.75" font-size="9.3" text-anchor="end" stroke-width="0.08">60</text>
<text x="344.80" y="29.25" font-size="9.3" text-anchor="end" stroke-width="0.08">70</text>
<text x="357.80" y="185.40" font-size="9.3" text-anchor="middle" stroke-width="0.08">0</text>
<text x="392.48" y="185.40" font-size="9.3" text-anchor="middle" stroke-width="0.08">20</text>
<text x="427.16" y="185.40" font-size="9.3" text-anchor="middle" stroke-width="0.08">40</text>
<text x="461.84" y="185.40" font-size="9.3" text-anchor="middle" stroke-width="0.08">60</text>
<text x="496.52" y="185.40" font-size="9.3" text-anchor="middle" stroke-width="0.08">80</text>
<text x="531.20" y="185.40" font-size="9.3" text-anchor="middle" stroke-width="0.08">100</text>
<text x="444.65" y="197.60" font-size="9.3" text-anchor="middle" stroke-width="0.08">Simulation Time (Interval)</text>
<text x="329.30" y="92.70" font-size="9.3" text-anchor="middle" stroke-width="0.08" transform="rotate(-90 329.30 92.70)">Average CPU Utilization (%)</text>
<path d="M419 105.00H440" stroke="#00ffff" stroke-width="1.7" stroke-opacity="0.82"/>
<text x="446.50" y="108.70" font-size="9.3" text-anchor="start" stroke-width="0.08">GA</text>
<path d="M419 118.85H440" stroke="#00008b" stroke-width="1.7" stroke-opacity="0.82"/>
<text x="446.50" y="122.55" font-size="9.3" text-anchor="start" stroke-width="0.08">DQL</text>
<path d="M419 132.70H440" stroke="#008000" stroke-width="1.7" stroke-opacity="0.82"/>
<text x="446.50" y="136.40" font-size="9.3" text-anchor="start" stroke-width="0.08">DRL</text>
<path d="M419 146.55H440" stroke="#ffa500" stroke-width="1.7" stroke-opacity="0.82"/>
<text x="446.50" y="150.25" font-size="9.3" text-anchor="start" stroke-width="0.08">GOBI</text>
<path d="M419 160.40H440" stroke="#ff0000" stroke-width="1.7" stroke-opacity="0.82"/>
<text x="446.50" y="164.10" font-size="9.3" text-anchor="start" stroke-width="0.08">Ours</text>
<clipPath id="c347235"><rect x="347" y="235.3" width="191.5" height="163.7"/></clipPath>
<g clip-path="url(#c347235)" fill="none" stroke-linejoin="round" stroke-linecap="butt">
<polyline points="355.5,380.5 357.5,378.5 359.5,377.5 361.5,378.0 364.0,379.5 366.0,378.5 368.0,377.5 370.5,378.0 373.0,378.5 374.5,374.0 376.0,370.0 377.5,366.0 379.0,361.0 380.5,356.0 382.0,351.0 383.5,347.0 384.5,345.0 386.0,340.0 387.5,334.0 389.0,328.0 390.5,324.5 392.5,323.5 395.0,323.0 397.0,321.5 399.0,318.5 401.0,316.0 403.0,313.0 404.5,310.5 406.0,311.5 408.0,312.0 410.0,308.5 412.5,306.0 415.0,306.5 417.5,306.0 420.0,307.5 422.0,310.0 424.0,314.0 426.0,318.0 428.0,321.0 430.5,323.0 433.0,324.5 435.5,326.0 438.0,327.0 440.5,326.0 443.0,325.0 445.5,325.0 448.0,325.5 450.5,326.5 452.0,325.0 453.5,323.0 455.0,320.0 456.5,321.0 458.0,320.5 459.5,318.5 461.0,315.5 461.8,314.0 463.5,319.0 465.0,323.0 467.0,327.0 469.0,330.5 470.5,334.0 471.0,335.0 472.5,339.0 474.5,343.0 476.5,346.0 478.5,349.0 479.5,349.5 480.5,346.5 482.0,343.5 483.5,343.5 485.5,345.5 487.5,348.0 489.5,351.0 491.5,354.5 493.0,358.0 494.5,361.0 496.5,364.0 498.5,367.0 500.3,369.0 502.0,370.6 504.5,371.3 506.5,370.5 508.5,369.0 511.0,369.0 514.0,370.0 516.0,370.8 518.0,371.5 520.5,373.0 523.0,374.2 525.0,375.5 527.0,376.8 528.5,377.5 530.5,376.8" stroke="#00ffff" stroke-width="3.8" opacity="0.2"/>
<polyline points="355.5,367.5 357.0,365.5 359.5,364.5 362.0,364.0 364.5,362.0 367.0,359.0 369.5,356.0 372.0,354.0 374.5,351.5 377.0,352.2 380.0,352.2 383.0,351.2 385.5,353.5 388.0,356.0 390.5,358.5 392.0,360.5 393.5,358.0 395.0,355.5 397.0,353.5 399.5,353.5 401.5,352.0 403.5,349.5 405.0,345.5 407.0,340.0 409.0,337.0 410.0,335.5 412.0,333.0 414.0,330.0 416.5,326.0 419.0,322.5 421.5,320.0 423.5,319.5 425.5,321.0 427.5,320.0 429.5,320.5 432.0,322.5 434.5,324.5 436.5,325.5 438.0,323.5 439.5,320.0 441.0,317.0 442.5,316.0 444.5,317.5 446.5,318.5 448.0,319.0 450.0,317.0 452.0,315.0 454.0,314.5 455.0,315.0 456.5,320.0 458.0,324.0 460.0,322.5 462.0,321.5 464.5,323.5 467.0,325.5 469.5,327.5 471.5,330.0 473.5,332.5 476.0,334.5 478.5,336.0 481.0,336.5 483.5,336.0 485.5,336.5 487.5,338.0 490.0,337.0 492.0,334.5 494.0,333.5 496.0,331.0 497.5,326.5 499.0,321.5 500.5,318.5 502.5,318.0 504.5,316.5 506.0,316.5 508.0,318.0 510.0,319.0 512.0,320.0 513.5,322.5 515.0,327.0 516.2,332.0 517.5,336.5 519.5,338.5 521.5,341.0 523.5,343.0 525.5,343.0 527.5,343.5 529.5,344.0" stroke="#00008b" stroke-width="5.6" opacity="0.2"/>
<polyline points="355.5,386.5 357.0,384.0 359.5,385.0 360.0,384.8 363.0,386.0 366.0,386.5 369.5,386.2 371.5,387.5 373.5,390.0 375.0,391.0 378.0,391.6 381.0,391.2 383.5,390.8 386.0,390.2 389.0,389.2 392.0,387.8 394.5,386.8 397.0,386.8 399.5,385.6 402.0,384.6 405.0,384.2 407.5,383.8 409.0,382.5 410.0,383.0 412.0,382.5 414.5,379.5 417.0,377.0 419.5,375.0 421.5,373.0 423.5,369.0 425.0,366.5 427.0,365.5 429.0,364.0 432.0,362.8 434.5,364.5 436.5,365.0 439.0,364.8 441.0,367.0 442.5,369.5 444.5,371.0 447.0,372.5 449.5,374.2 451.5,372.5 454.0,370.5 456.5,371.2 458.0,371.6 461.0,372.8 464.0,374.0 467.0,375.0 470.0,375.8 472.0,375.5 473.5,373.5 475.0,370.5 477.0,367.0 479.0,364.0 481.0,361.0 483.0,359.0 485.5,357.5 487.5,356.5 489.0,356.8 490.5,358.5 492.5,361.0 494.5,363.0 496.5,365.0 498.5,366.5 501.0,368.2 503.5,369.0 506.0,370.5 508.5,370.2 511.0,369.8 514.0,369.5 516.5,369.2 519.0,369.0 521.5,368.2 524.0,367.8 526.5,368.5 528.5,368.2 530.5,367.8" stroke="#008000" stroke-width="3.8" opacity="0.2"/>
<polyline points="355.5,362.0 356.5,358.0 358.0,354.5 360.0,352.0 362.0,351.0 363.5,350.0 364.5,347.0 365.0,345.0 366.0,340.0 367.5,335.5 369.5,335.0 372.0,333.5 375.0,334.0 377.5,334.5 379.5,333.0 381.0,332.5 382.5,335.0 384.5,337.0 386.5,336.0 389.0,334.0 391.5,332.5 394.0,331.0 395.0,328.5 396.0,325.0 397.5,320.0 399.0,315.0 400.5,310.0 402.0,305.0 403.5,300.0 404.2,298.0 405.2,294.0 406.3,290.0 407.5,285.0 409.0,278.0 410.5,270.0 411.5,267.0 413.0,265.0 414.5,263.5 416.0,260.0 417.5,257.0 419.0,254.5 420.5,253.0 422.0,252.0 423.5,249.5 425.0,247.0 426.0,248.0 427.0,249.5 428.5,248.0 430.5,247.5 432.5,247.0 434.5,246.0 435.8,244.0 437.0,247.5 438.5,251.0 440.0,255.0 441.0,260.0 442.5,266.0 444.0,271.0 445.5,276.0 447.0,281.0 448.2,285.0 449.0,290.0 450.5,296.0 452.0,302.0 453.5,306.0 455.0,308.2 457.5,310.5 460.0,311.5 462.0,311.0 464.5,309.0 467.0,307.5 469.5,306.5 472.0,306.0 474.5,305.0 477.0,304.0 479.0,303.0 480.5,307.0 482.5,307.5 485.0,309.0 487.0,308.5 489.0,309.0 490.0,309.0 492.0,309.5 494.5,312.5 497.0,315.0 499.5,317.0 501.5,319.0 503.5,322.5 505.5,326.0 507.5,328.5 509.5,329.7 511.5,329.5 513.5,327.0 515.5,324.0 517.5,321.5 519.5,318.5 521.5,315.5 523.5,313.0 525.5,310.8 527.5,309.0 530.0,307.2" stroke="#ffa500" stroke-width="3.4" opacity="0.2"/>
<polyline points="355.5,381.5 357.0,378.0 359.0,375.5 361.0,374.5 363.0,374.5 364.2,373.5 365.0,369.0 366.5,363.0 368.0,358.0 369.5,354.0 371.0,350.0 372.5,347.0 373.5,345.0 375.5,341.0 377.5,337.0 379.0,332.0 380.5,327.0 381.5,324.5 383.5,325.0 385.5,325.5 387.5,324.0 389.5,322.5 392.0,321.0 394.0,320.5 395.5,322.0 397.0,325.5 399.0,327.0 401.5,326.5 404.0,325.8 405.5,324.0 408.0,323.0 410.5,321.0 413.0,318.0 415.5,315.0 418.0,311.5 420.5,309.0 422.5,308.5 424.0,307.0 426.0,306.5 428.0,304.5 430.5,302.0 433.0,300.0 435.5,298.5 438.0,297.5 440.5,297.5 442.5,297.8 444.2,295.5 445.2,299.0 446.5,305.0 448.0,311.0 449.5,316.5 451.0,321.5 452.5,326.0 454.0,329.0 455.0,331.0 457.5,339.0 458.5,342.0 459.3,346.0 460.2,350.5 461.0,354.5 462.5,356.5 464.5,355.5 466.5,356.5 468.5,356.5 470.5,356.0 473.0,357.5 475.5,358.5 478.0,358.8 480.0,358.5 482.0,360.5 484.0,362.0 486.0,362.5 488.0,363.5 489.5,364.0 491.5,362.5 493.5,361.5 495.5,361.8 497.5,362.8 499.5,362.5 502.0,362.2 504.5,363.0 507.0,363.0 509.0,365.0 511.0,367.5 513.0,368.8 516.0,369.2 518.5,370.5 521.0,371.5 523.5,372.5 526.0,373.5 528.0,373.8 530.5,373.5" stroke="#ff0000" stroke-width="5.0" opacity="0.2"/>
<polyline points="355.5,380.5 357.5,378.5 359.5,377.5 361.5,378.0 364.0,379.5 366.0,378.5 368.0,377.5 370.5,378.0 373.0,378.5 374.5,374.0 376.0,370.0 377.5,366.0 379.0,361.0 380.5,356.0 382.0,351.0 383.5,347.0 384.5,345.0 386.0,340.0 387.5,334.0 389.0,328.0 390.5,324.5 392.5,323.5 395.0,323.0 397.0,321.5 399.0,318.5 401.0,316.0 403.0,313.0 404.5,310.5 406.0,311.5 408.0,312.0 410.0,308.5 412.5,306.0 415.0,306.5 417.5,306.0 420.0,307.5 422.0,310.0 424.0,314.0 426.0,318.0 428.0,321.0 430.5,323.0 433.0,324.5 435.5,326.0 438.0,327.0 440.5,326.0 443.0,325.0 445.5,325.0 448.0,325.5 450.5,326.5 452.0,325.0 453.5,323.0 455.0,320.0 456.5,321.0 458.0,320.5 459.5,318.5 461.0,315.5 461.8,314.0 463.5,319.0 465.0,323.0 467.0,327.0 469.0,330.5 470.5,334.0 471.0,335.0 472.5,339.0 474.5,343.0 476.5,346.0 478.5,349.0 479.5,349.5 480.5,346.5 482.0,343.5 483.5,343.5 485.5,345.5 487.5,348.0 489.5,351.0 491.5,354.5 493.0,358.0 494.5,361.0 496.5,364.0 498.5,367.0 500.3,369.0 502.0,370.6 504.5,371.3 506.5,370.5 508.5,369.0 511.0,369.0 514.0,370.0 516.0,370.8 518.0,371.5 520.5,373.0 523.0,374.2 525.0,375.5 527.0,376.8 528.5,377.5 530.5,376.8" stroke="#00ffff" stroke-width="1.8" stroke-opacity="0.82"/>
<polyline points="355.5,367.5 357.0,365.5 359.5,364.5 362.0,364.0 364.5,362.0 367.0,359.0 369.5,356.0 372.0,354.0 374.5,351.5 377.0,352.2 380.0,352.2 383.0,351.2 385.5,353.5 388.0,356.0 390.5,358.5 392.0,360.5 393.5,358.0 395.0,355.5 397.0,353.5 399.5,353.5 401.5,352.0 403.5,349.5 405.0,345.5 407.0,340.0 409.0,337.0 410.0,335.5 412.0,333.0 414.0,330.0 416.5,326.0 419.0,322.5 421.5,320.0 423.5,319.5 425.5,321.0 427.5,320.0 429.5,320.5 432.0,322.5 434.5,324.5 436.5,325.5 438.0,323.5 439.5,320.0 441.0,317.0 442.5,316.0 444.5,317.5 446.5,318.5 448.0,319.0 450.0,317.0 452.0,315.0 454.0,314.5 455.0,315.0 456.5,320.0 458.0,324.0 460.0,322.5 462.0,321.5 464.5,323.5 467.0,325.5 469.5,327.5 471.5,330.0 473.5,332.5 476.0,334.5 478.5,336.0 481.0,336.5 483.5,336.0 485.5,336.5 487.5,338.0 490.0,337.0 492.0,334.5 494.0,333.5 496.0,331.0 497.5,326.5 499.0,321.5 500.5,318.5 502.5,318.0 504.5,316.5 506.0,316.5 508.0,318.0 510.0,319.0 512.0,320.0 513.5,322.5 515.0,327.0 516.2,332.0 517.5,336.5 519.5,338.5 521.5,341.0 523.5,343.0 525.5,343.0 527.5,343.5 529.5,344.0" stroke="#00008b" stroke-width="1.8" stroke-opacity="0.82"/>
<polyline points="355.5,386.5 357.0,384.0 359.5,385.0 360.0,384.8 363.0,386.0 366.0,386.5 369.5,386.2 371.5,387.5 373.5,390.0 375.0,391.0 378.0,391.6 381.0,391.2 383.5,390.8 386.0,390.2 389.0,389.2 392.0,387.8 394.5,386.8 397.0,386.8 399.5,385.6 402.0,384.6 405.0,384.2 407.5,383.8 409.0,382.5 410.0,383.0 412.0,382.5 414.5,379.5 417.0,377.0 419.5,375.0 421.5,373.0 423.5,369.0 425.0,366.5 427.0,365.5 429.0,364.0 432.0,362.8 434.5,364.5 436.5,365.0 439.0,364.8 441.0,367.0 442.5,369.5 444.5,371.0 447.0,372.5 449.5,374.2 451.5,372.5 454.0,370.5 456.5,371.2 458.0,371.6 461.0,372.8 464.0,374.0 467.0,375.0 470.0,375.8 472.0,375.5 473.5,373.5 475.0,370.5 477.0,367.0 479.0,364.0 481.0,361.0 483.0,359.0 485.5,357.5 487.5,356.5 489.0,356.8 490.5,358.5 492.5,361.0 494.5,363.0 496.5,365.0 498.5,366.5 501.0,368.2 503.5,369.0 506.0,370.5 508.5,370.2 511.0,369.8 514.0,369.5 516.5,369.2 519.0,369.0 521.5,368.2 524.0,367.8 526.5,368.5 528.5,368.2 530.5,367.8" stroke="#008000" stroke-width="1.8" stroke-opacity="0.82"/>
<polyline points="355.5,362.0 356.5,358.0 358.0,354.5 360.0,352.0 362.0,351.0 363.5,350.0 364.5,347.0 365.0,345.0 366.0,340.0 367.5,335.5 369.5,335.0 372.0,333.5 375.0,334.0 377.5,334.5 379.5,333.0 381.0,332.5 382.5,335.0 384.5,337.0 386.5,336.0 389.0,334.0 391.5,332.5 394.0,331.0 395.0,328.5 396.0,325.0 397.5,320.0 399.0,315.0 400.5,310.0 402.0,305.0 403.5,300.0 404.2,298.0 405.2,294.0 406.3,290.0 407.5,285.0 409.0,278.0 410.5,270.0 411.5,267.0 413.0,265.0 414.5,263.5 416.0,260.0 417.5,257.0 419.0,254.5 420.5,253.0 422.0,252.0 423.5,249.5 425.0,247.0 426.0,248.0 427.0,249.5 428.5,248.0 430.5,247.5 432.5,247.0 434.5,246.0 435.8,244.0 437.0,247.5 438.5,251.0 440.0,255.0 441.0,260.0 442.5,266.0 444.0,271.0 445.5,276.0 447.0,281.0 448.2,285.0 449.0,290.0 450.5,296.0 452.0,302.0 453.5,306.0 455.0,308.2 457.5,310.5 460.0,311.5 462.0,311.0 464.5,309.0 467.0,307.5 469.5,306.5 472.0,306.0 474.5,305.0 477.0,304.0 479.0,303.0 480.5,307.0 482.5,307.5 485.0,309.0 487.0,308.5 489.0,309.0 490.0,309.0 492.0,309.5 494.5,312.5 497.0,315.0 499.5,317.0 501.5,319.0 503.5,322.5 505.5,326.0 507.5,328.5 509.5,329.7 511.5,329.5 513.5,327.0 515.5,324.0 517.5,321.5 519.5,318.5 521.5,315.5 523.5,313.0 525.5,310.8 527.5,309.0 530.0,307.2" stroke="#ffa500" stroke-width="1.8" stroke-opacity="0.82"/>
<polyline points="355.5,381.5 357.0,378.0 359.0,375.5 361.0,374.5 363.0,374.5 364.2,373.5 365.0,369.0 366.5,363.0 368.0,358.0 369.5,354.0 371.0,350.0 372.5,347.0 373.5,345.0 375.5,341.0 377.5,337.0 379.0,332.0 380.5,327.0 381.5,324.5 383.5,325.0 385.5,325.5 387.5,324.0 389.5,322.5 392.0,321.0 394.0,320.5 395.5,322.0 397.0,325.5 399.0,327.0 401.5,326.5 404.0,325.8 405.5,324.0 408.0,323.0 410.5,321.0 413.0,318.0 415.5,315.0 418.0,311.5 420.5,309.0 422.5,308.5 424.0,307.0 426.0,306.5 428.0,304.5 430.5,302.0 433.0,300.0 435.5,298.5 438.0,297.5 440.5,297.5 442.5,297.8 444.2,295.5 445.2,299.0 446.5,305.0 448.0,311.0 449.5,316.5 451.0,321.5 452.5,326.0 454.0,329.0 455.0,331.0 457.5,339.0 458.5,342.0 459.3,346.0 460.2,350.5 461.0,354.5 462.5,356.5 464.5,355.5 466.5,356.5 468.5,356.5 470.5,356.0 473.0,357.5 475.5,358.5 478.0,358.8 480.0,358.5 482.0,360.5 484.0,362.0 486.0,362.5 488.0,363.5 489.5,364.0 491.5,362.5 493.5,361.5 495.5,361.8 497.5,362.8 499.5,362.5 502.0,362.2 504.5,363.0 507.0,363.0 509.0,365.0 511.0,367.5 513.0,368.8 516.0,369.2 518.5,370.5 521.0,371.5 523.5,372.5 526.0,373.5 528.0,373.8 530.5,373.5" stroke="#ff0000" stroke-width="1.8" stroke-opacity="0.82"/>
</g>
<rect x="347" y="235.3" width="191.50" height="163.70" fill="none" stroke="#1a1a1a" stroke-width="0.9"/>
<path d="M355.60 399.00v-3.0M355.60 235.30v3.0M390.40 399.00v-3.0M390.40 235.30v3.0M425.20 399.00v-3.0M425.20 235.30v3.0M460.00 399.00v-3.0M460.00 235.30v3.0M494.80 399.00v-3.0M494.80 235.30v3.0M529.60 399.00v-3.0M529.60 235.30v3.0" stroke="#1a1a1a" stroke-width="0.9" fill="none"/>
<path d="M364.30 399.00v-1.6M364.30 235.30v1.6M373.00 399.00v-1.6M373.00 235.30v1.6M381.70 399.00v-1.6M381.70 235.30v1.6M399.10 399.00v-1.6M399.10 235.30v1.6M407.80 399.00v-1.6M407.80 235.30v1.6M416.50 399.00v-1.6M416.50 235.30v1.6M433.90 399.00v-1.6M433.90 235.30v1.6M442.60 399.00v-1.6M442.60 235.30v1.6M451.30 399.00v-1.6M451.30 235.30v1.6M468.70 399.00v-1.6M468.70 235.30v1.6M477.40 399.00v-1.6M477.40 235.30v1.6M486.10 399.00v-1.6M486.10 235.30v1.6M503.50 399.00v-1.6M503.50 235.30v1.6M512.20 399.00v-1.6M512.20 235.30v1.6M520.90 399.00v-1.6M520.90 235.30v1.6" stroke="#1a1a1a" stroke-width="0.9" fill="none"/>
<path d="M347.00 397.40h3.0M538.50 397.40h-3.0M347.00 357.40h3.0M538.50 357.40h-3.0M347.00 317.40h3.0M538.50 317.40h-3.0M347.00 277.40h3.0M538.50 277.40h-3.0M347.00 237.40h3.0M538.50 237.40h-3.0" stroke="#1a1a1a" stroke-width="0.9" fill="none"/>
<path d="M347.00 389.40h1.6M538.50 389.40h-1.6M347.00 381.40h1.6M538.50 381.40h-1.6M347.00 373.40h1.6M538.50 373.40h-1.6M347.00 365.40h1.6M538.50 365.40h-1.6M347.00 349.40h1.6M538.50 349.40h-1.6M347.00 341.40h1.6M538.50 341.40h-1.6M347.00 333.40h1.6M538.50 333.40h-1.6M347.00 325.40h1.6M538.50 325.40h-1.6M347.00 309.40h1.6M538.50 309.40h-1.6M347.00 301.40h1.6M538.50 301.40h-1.6M347.00 293.40h1.6M538.50 293.40h-1.6M347.00 285.40h1.6M538.50 285.40h-1.6M347.00 269.40h1.6M538.50 269.40h-1.6M347.00 261.40h1.6M538.50 261.40h-1.6M347.00 253.40h1.6M538.50 253.40h-1.6M347.00 245.40h1.6M538.50 245.40h-1.6" stroke="#1a1a1a" stroke-width="0.9" fill="none"/>
<text x="342.50" y="400.80" font-size="9.3" text-anchor="end" stroke-width="0.08">0</text>
<text x="342.50" y="360.80" font-size="9.3" text-anchor="end" stroke-width="0.08">1</text>
<text x="342.50" y="320.80" font-size="9.3" text-anchor="end" stroke-width="0.08">2</text>
<text x="342.50" y="280.80" font-size="9.3" text-anchor="end" stroke-width="0.08">3</text>
<text x="342.50" y="240.80" font-size="9.3" text-anchor="end" stroke-width="0.08">4</text>
<text x="355.60" y="410.00" font-size="9.3" text-anchor="middle" stroke-width="0.08">0</text>
<text x="390.40" y="410.00" font-size="9.3" text-anchor="middle" stroke-width="0.08">20</text>
<text x="425.20" y="410.00" font-size="9.3" text-anchor="middle" stroke-width="0.08">40</text>
<text x="460.00" y="410.00" font-size="9.3" text-anchor="middle" stroke-width="0.08">60</text>
<text x="494.80" y="410.00" font-size="9.3" text-anchor="middle" stroke-width="0.08">80</text>
<text x="529.60" y="410.00" font-size="9.3" text-anchor="middle" stroke-width="0.08">100</text>
<text x="442.75" y="422.30" font-size="9.3" text-anchor="middle" stroke-width="0.08">Simulation Time (Interval)</text>
<text x="331.60" y="317.15" font-size="9.3" text-anchor="middle" stroke-width="0.08" transform="rotate(-90 331.60 317.15)">Average RAM Utilization (%)</text>
<path d="M355 247.50H375" stroke="#00ffff" stroke-width="1.7" stroke-opacity="0.82"/>
<text x="382.00" y="251.20" font-size="9.3" text-anchor="start" stroke-width="0.08">GA</text>
<path d="M355 261.40H375" stroke="#00008b" stroke-width="1.7" stroke-opacity="0.82"/>
<text x="382.00" y="265.10" font-size="9.3" text-anchor="start" stroke-width="0.08">DQL</text>
<path d="M355 275.30H375" stroke="#008000" stroke-width="1.7" stroke-opacity="0.82"/>
<text x="382.00" y="279.00" font-size="9.3" text-anchor="start" stroke-width="0.08">DRL</text>
<path d="M355 289.20H375" stroke="#ffa500" stroke-width="1.7" stroke-opacity="0.82"/>
<text x="382.00" y="292.90" font-size="9.3" text-anchor="start" stroke-width="0.08">GOBI</text>
<path d="M355 303.10H375" stroke="#ff0000" stroke-width="1.7" stroke-opacity="0.82"/>
<text x="382.00" y="306.80" font-size="9.3" text-anchor="start" stroke-width="0.08">Ours</text>
<text x="39.75" y="222.4" font-size="13" stroke-width="0.06" textLength="13.90" lengthAdjust="spacingAndGlyphs">(<tspan font-weight="bold">a</tspan>)</text>
<text x="56.35" y="222.4" font-size="13" stroke-width="0.06" textLength="62.50" lengthAdjust="spacingAndGlyphs">Cumulative</text>
<text x="122.75" y="222.4" font-size="13" stroke-width="0.06" textLength="24.10" lengthAdjust="spacingAndGlyphs">CPU</text>
<text x="150.35" y="222.4" font-size="13" stroke-width="0.06" textLength="54.50" lengthAdjust="spacingAndGlyphs">Utilization</text>
<text x="330.15" y="222.4" font-size="13" stroke-width="0.06" textLength="15.10" lengthAdjust="spacingAndGlyphs">(<tspan font-weight="bold">b</tspan>)</text>
<text x="349.15" y="222.4" font-size="13" stroke-width="0.06" textLength="43.10" lengthAdjust="spacingAndGlyphs">Average</text>
<text x="396.35" y="222.4" font-size="13" stroke-width="0.06" textLength="23.90" lengthAdjust="spacingAndGlyphs">CPU</text>
<text x="423.75" y="222.4" font-size="13" stroke-width="0.06" textLength="54.50" lengthAdjust="spacingAndGlyphs">Utilization</text>
<text x="482.75" y="222.4" font-size="13" stroke-width="0.06" textLength="22.50" lengthAdjust="spacingAndGlyphs">with</text>
<text x="509.15" y="222.4" font-size="13" stroke-width="0.06" textLength="23.70" lengthAdjust="spacingAndGlyphs">time</text>
<text x="38.75" y="446.0" font-size="13" stroke-width="0.06" textLength="13.10" lengthAdjust="spacingAndGlyphs">(<tspan font-weight="bold">c</tspan>)</text>
<text x="54.75" y="446.0" font-size="13" stroke-width="0.06" textLength="62.00" lengthAdjust="spacingAndGlyphs">Cumulative</text>
<text x="120.25" y="446.0" font-size="13" stroke-width="0.06" textLength="27.50" lengthAdjust="spacingAndGlyphs">RAM</text>
<text x="151.05" y="446.0" font-size="13" stroke-width="0.06" textLength="55.20" lengthAdjust="spacingAndGlyphs">Utilization</text>
<text x="328.75" y="446.0" font-size="13" stroke-width="0.06" textLength="14.90" lengthAdjust="spacingAndGlyphs">(<tspan font-weight="bold">d</tspan>)</text>
<text x="347.15" y="446.0" font-size="13" stroke-width="0.06" textLength="43.10" lengthAdjust="spacingAndGlyphs">Average</text>
<text x="393.75" y="446.0" font-size="13" stroke-width="0.06" textLength="28.50" lengthAdjust="spacingAndGlyphs">RAM</text>
<text x="425.75" y="446.0" font-size="13" stroke-width="0.06" textLength="54.50" lengthAdjust="spacingAndGlyphs">Utilization</text>
<text x="484.75" y="446.0" font-size="13" stroke-width="0.06" textLength="22.50" lengthAdjust="spacingAndGlyphs">with</text>
<text x="511.15" y="446.0" font-size="13" stroke-width="0.06" textLength="23.30" lengthAdjust="spacingAndGlyphs">time</text>
</svg>
</body></html>
